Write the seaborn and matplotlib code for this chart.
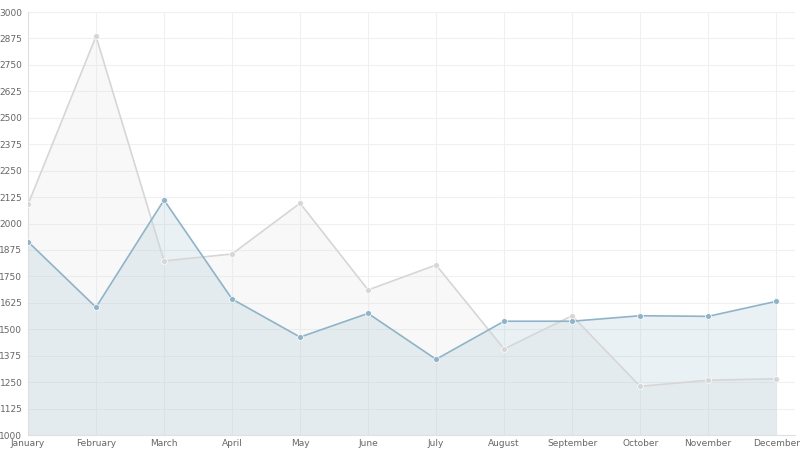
import numpy as np
import pandas as pd
import matplotlib
matplotlib.use("Agg")
import matplotlib.pyplot as plt
import seaborn as sns

months = ["January", "February", "March", "April", "May", "June",
          "July", "August", "September", "October", "November", "December"]
grey_values = [2090, 2885, 1823, 1856, 2096, 1686, 1804, 1407, 1564, 1230, 1259, 1266]
blue_values = [1914, 1604, 2111, 1643, 1463, 1575, 1358, 1538, 1538, 1564, 1561, 1632]
y_ticks = list(range(1000, 3001, 125))

sns.set_theme(style="white")
plt.rcParams["font.family"] = ["DejaVu Sans"]

x = np.arange(len(months))
df = pd.DataFrame({"x": np.concatenate([x, x]),
                   "value": grey_values + blue_values,
                   "series": ["grey"] * 12 + ["blue"] * 12})

fig = plt.figure(figsize=(8, 4.5), dpi=100)
ax = fig.add_axes([0.035, 0.0333, 0.959, 0.94])

grey_line = (220 / 255, 220 / 255, 220 / 255)
blue_line = (151 / 255, 187 / 255, 205 / 255)

# both areas fill down to the bottom of the scale
ax.fill_between(x, 1000, grey_values, color=grey_line, alpha=0.2, linewidth=0, zorder=1)
ax.fill_between(x, 1000, blue_values, color=blue_line, alpha=0.2, linewidth=0, zorder=2)

sns.lineplot(data=df, x="x", y="value", hue="series",
             palette={"grey": "#d6d6d6", "blue": "#8fb3c8"},
             marker="o", markersize=4.2, markeredgecolor="white", markeredgewidth=0.5,
             linewidth=1.2, legend=False, ax=ax, zorder=3)

ax.set_xlim(0, 11.28)
ax.set_ylim(1000, 3000)
ax.set_yticks(y_ticks)
ax.set_yticklabels([str(v) for v in y_ticks])
ax.set_xticks(x)
ax.set_xticklabels(months)
ax.set_xlabel("")
ax.set_ylabel("")
ax.grid(True, color="#f0f0f0", linewidth=0.8)
ax.set_axisbelow(True)
ax.tick_params(axis="both", labelsize=6.5, colors="#666666", length=0)
ax.tick_params(axis="x", pad=3)
ax.tick_params(axis="y", pad=4)
for side in ["top", "right"]:
    ax.spines[side].set_visible(False)
for side in ["left", "bottom"]:
    ax.spines[side].set_color("#e0e0e0")
    ax.spines[side].set_linewidth(0.8)

fig.savefig("out.png", dpi=100)
